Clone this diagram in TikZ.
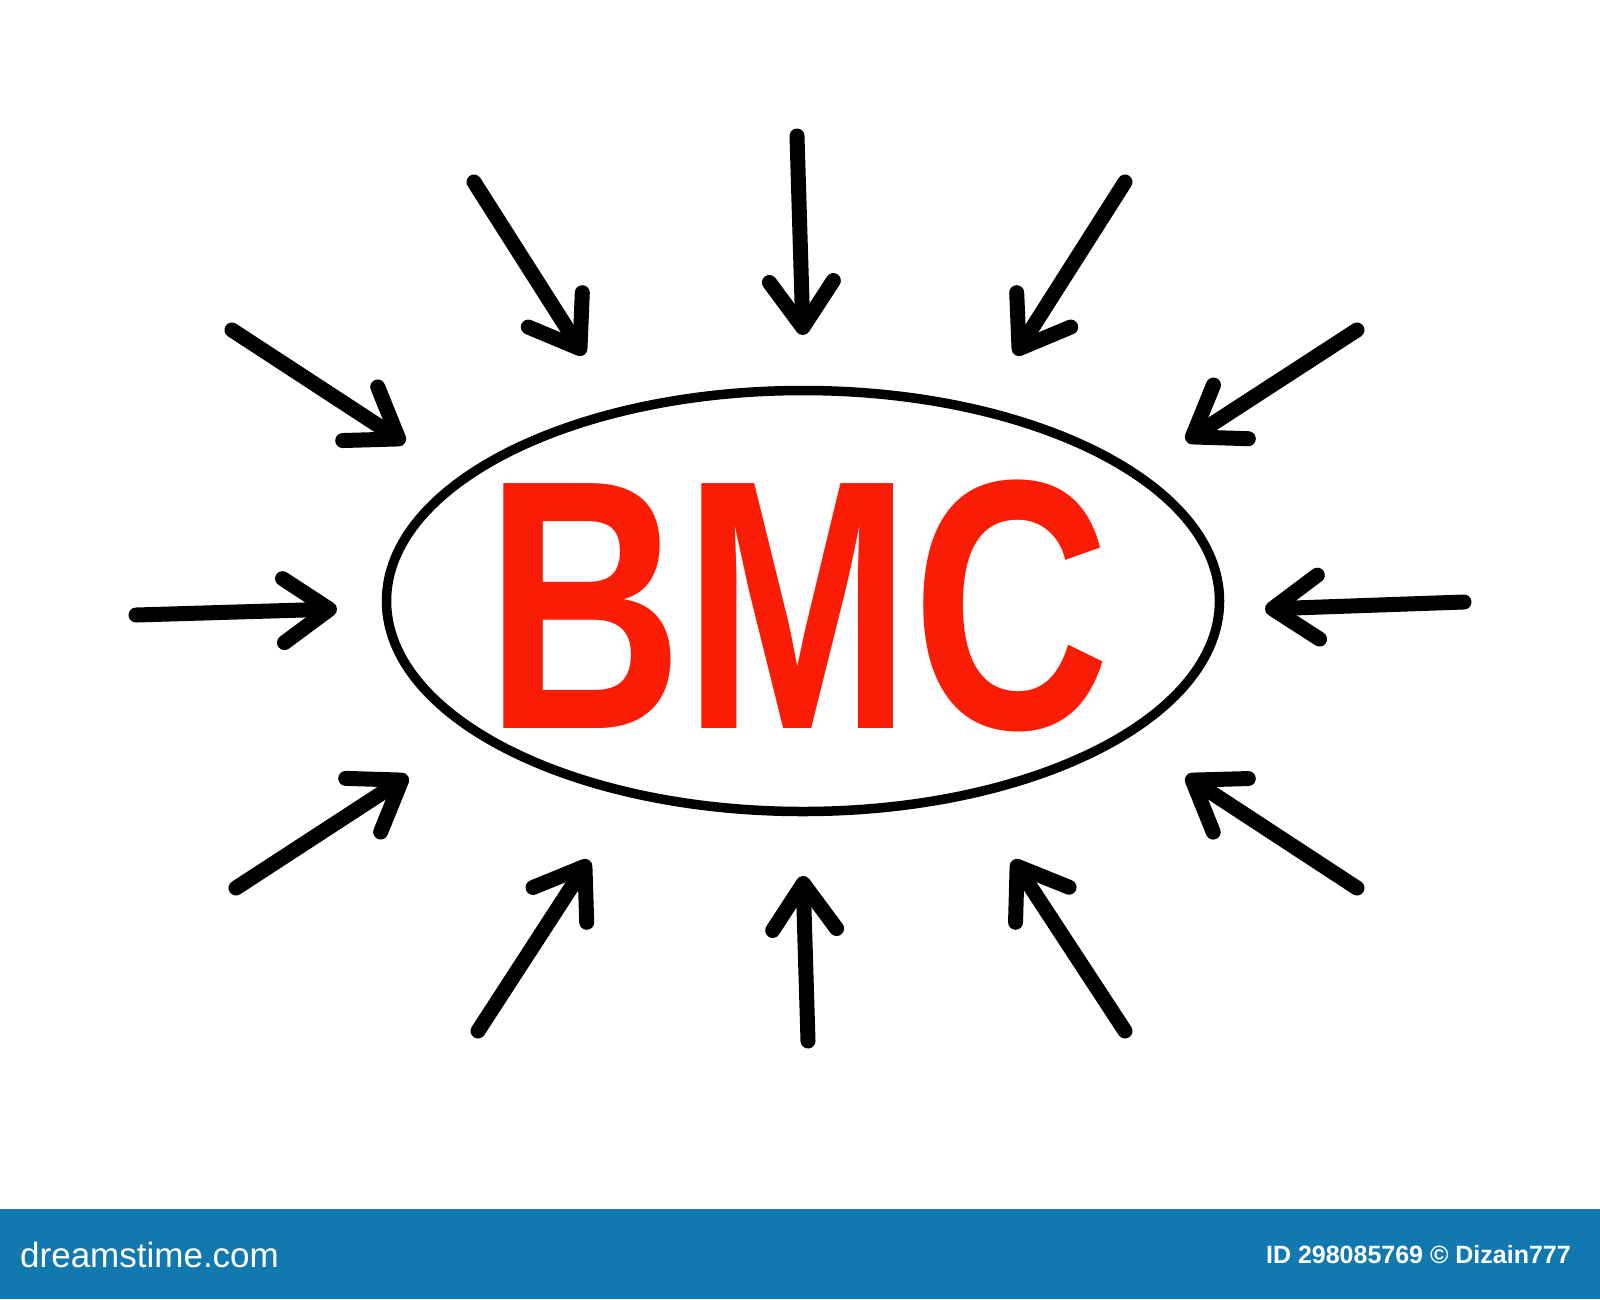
\documentclass[tikz,border=0pt]{standalone}
\usepackage{fontspec}
\setmainfont{Liberation Sans}
\usetikzlibrary{shapes.geometric,arrows.meta}
\definecolor{bmcred}{RGB}{250,28,5}
\definecolor{barblue}{RGB}{17,121,176}
\tikzset{
  inarrow/.style={line width=15pt, line cap=round,
    -{Straight Barb[length=46pt,width=64pt,line width=15pt,round]}},
  oval/.style={draw, ellipse, line width=9.5pt, minimum width=833pt, minimum height=421pt, inner sep=0pt},
  bartext/.style={text=white, inner sep=0pt}
}
\begin{document}
\begin{tikzpicture}[x=1pt,y=-1pt]
\useasboundingbox (0,0) rectangle (1600,1299);
\fill[white] (0,0) rectangle (1600,1299);
\fill[barblue] (0,1209) rectangle (1600,1299);

\node[oval] (ring) at (803,601) {};
\node[text=bmcred, inner sep=0pt, font=\fontsize{356}{356}\bfseries\selectfont] (bmc) at (798,606) {\scalebox{0.77}[1]{BMC}};

% arrow end points
\coordinate (s1) at (797,136);   \coordinate (t1) at (803,335);
\coordinate (s2) at (474,182);   \coordinate (t2) at (584,355);
\coordinate (s3) at (232,330);   \coordinate (t3) at (405,443);
\coordinate (s4) at (136,615);   \coordinate (t4) at (337,609);
\coordinate (s5) at (236,888);   \coordinate (t5) at (408,776);
\coordinate (s6) at (478,1031);  \coordinate (t6) at (589,860);
\coordinate (s7) at (808,1041);  \coordinate (t7) at (803,876);
\coordinate (s8) at (1125,1031); \coordinate (t8) at (1013,860);
\coordinate (s9) at (1357,888);  \coordinate (t9) at (1186,776);
\coordinate (s10) at (1464,602); \coordinate (t10) at (1265,609);
\coordinate (s11) at (1357,330); \coordinate (t11) at (1186,441);
\coordinate (s12) at (1125,182); \coordinate (t12) at (1015,355);

\foreach \i in {1,...,12} { \draw[inarrow] (s\i) -- (t\i); }

\node[bartext, anchor=west, font=\fontsize{35}{35}\selectfont] (logo) at (20,1255) {dreamstime.com};
\node[bartext, anchor=east, font=\fontsize{25}{25}\bfseries\selectfont] (idtext) at (1571,1255) {ID 298085769 © Dizain777};
\end{tikzpicture}
\end{document}
